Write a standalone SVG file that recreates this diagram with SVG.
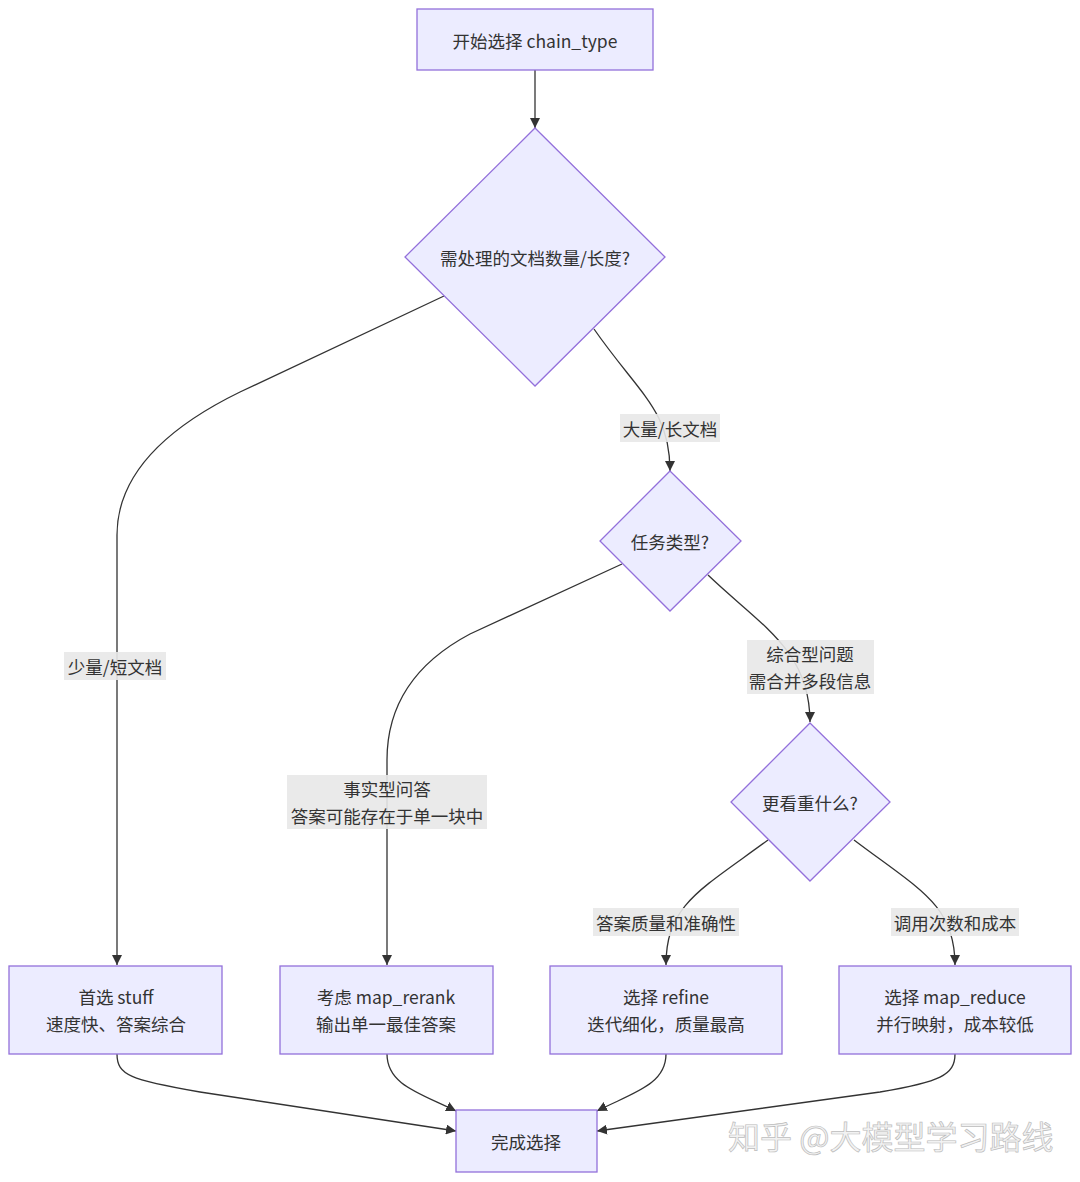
<svg xmlns="http://www.w3.org/2000/svg" width="1080" height="1182" viewBox="0 0 1080 1182">
<style>
  .node{fill:#ECECFF;stroke:#9370DB;stroke-width:1.3}
  .t{font-family:"Noto Sans CJK SC","Noto Sans",sans-serif;font-size:17.5px;fill:#333;text-anchor:middle;dominant-baseline:central}
  .edge{fill:none;stroke:#333;stroke-width:1.3}
  .lbg{fill:#e8e8e8;opacity:0.9}
  .wm{font-family:"Noto Sans CJK SC",sans-serif;font-size:32px;fill:#f2f2f2;stroke:#bdbdbd;stroke-width:0.7}
</style>
<defs>
  <marker id="arr" viewBox="0 0 10 10" refX="10" refY="5" markerWidth="10" markerHeight="10" markerUnits="userSpaceOnUse" orient="auto">
    <path d="M0,0 L10,5 L0,10 z" fill="#333"/>
  </marker>
</defs>
<rect width="1080" height="1182" fill="#ffffff"/>

<g id="connectors">
  <path class="edge" d="M535,70 L535,128" marker-end="url(#arr)"/>
  <path class="edge" d="M444,296 L240,392 Q117,452 117,535 L117,965" marker-end="url(#arr)"/>
  <path class="edge" d="M594,329 C640,395 670,410 670,471" marker-end="url(#arr)"/>
  <path class="edge" d="M622,564 L470,634 Q387,678 387,760 L387,965" marker-end="url(#arr)"/>
  <path class="edge" d="M708,575 C760,625 810,650 810,722" marker-end="url(#arr)"/>
  <path class="edge" d="M768,840 C700,890 666,905 666,965" marker-end="url(#arr)"/>
  <path class="edge" d="M854,840 C920,890 955,905 955,965" marker-end="url(#arr)"/>
  <path class="edge" d="M117,1054 C117,1075 130,1080 200,1092 L456,1131" marker-end="url(#arr)"/>
  <path class="edge" d="M387,1054 C387,1085 420,1093 456,1111" marker-end="url(#arr)"/>
  <path class="edge" d="M666,1054 C666,1085 632,1093 597,1111" marker-end="url(#arr)"/>
  <path class="edge" d="M955,1054 C955,1075 940,1082 880,1092 L597,1131" marker-end="url(#arr)"/>
</g>

<g id="edge-labels">
  <rect class="lbg" x="64" y="652" width="102" height="28"/>
  <text class="t" x="115" y="666">少量/短文档</text>
  <rect class="lbg" x="620" y="414" width="100" height="28"/>
  <text class="t" x="670" y="428">大量/长文档</text>
  <rect class="lbg" x="287" y="775" width="200" height="54"/>
  <text class="t" x="387" y="788">事实型问答</text>
  <text class="t" x="387" y="815">答案可能存在于单一块中</text>
  <rect class="lbg" x="747" y="640" width="127" height="54"/>
  <text class="t" x="810" y="653">综合型问题</text>
  <text class="t" x="810" y="680">需合并多段信息</text>
  <rect class="lbg" x="593" y="908" width="146" height="28"/>
  <text class="t" x="666" y="922">答案质量和准确性</text>
  <rect class="lbg" x="891" y="908" width="128" height="28"/>
  <text class="t" x="955" y="922">调用次数和成本</text>
</g>

<g id="start">
  <rect class="node" x="417" y="9" width="236" height="61"/>
  <text class="t" x="535" y="40">开始选择 chain_type</text>
</g>
<g id="q1">
  <polygon class="node" points="535,128 665,257 535,386 405,257"/>
  <text class="t" x="535" y="257">需处理的文档数量/长度?</text>
</g>
<g id="q2">
  <polygon class="node" points="670,471 741,541 670,611 600,541"/>
  <text class="t" x="670" y="541">任务类型?</text>
</g>
<g id="q3">
  <polygon class="node" points="810,723 890,802 810,881 731,802"/>
  <text class="t" x="810" y="802">更看重什么?</text>
</g>
<g id="stuff">
  <rect class="node" x="9" y="966" width="213" height="88"/>
  <text class="t" x="116" y="996">首选 stuff</text>
  <text class="t" x="116" y="1023">速度快、答案综合</text>
</g>
<g id="map_rerank">
  <rect class="node" x="280" y="966" width="213" height="88"/>
  <text class="t" x="386" y="996">考虑 map_rerank</text>
  <text class="t" x="386" y="1023">输出单一最佳答案</text>
</g>
<g id="refine">
  <rect class="node" x="550" y="966" width="232" height="88"/>
  <text class="t" x="666" y="996">选择 refine</text>
  <text class="t" x="666" y="1023">迭代细化，质量最高</text>
</g>
<g id="map_reduce">
  <rect class="node" x="839" y="966" width="232" height="88"/>
  <text class="t" x="955" y="996">选择 map_reduce</text>
  <text class="t" x="955" y="1023">并行映射，成本较低</text>
</g>
<g id="end">
  <rect class="node" x="456" y="1110" width="141" height="62"/>
  <text class="t" x="526" y="1141">完成选择</text>
</g>

<text class="wm" x="728" y="1149">知乎 @大模型学习路线</text>
</svg>
